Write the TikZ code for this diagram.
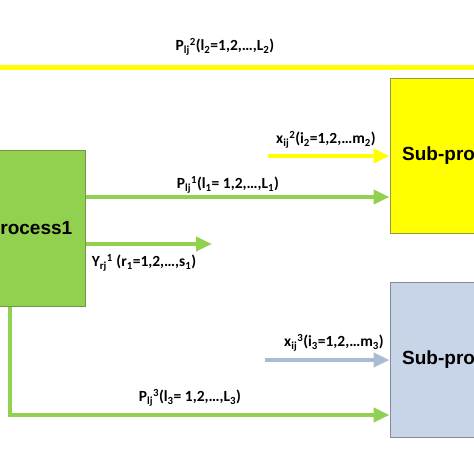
\documentclass[tikz,border=0pt]{standalone}
\usepackage{fontspec}
\setmainfont{Carlito}
\newfontfamily\boxfont{Liberation Sans}
\usetikzlibrary{arrows.meta}

\definecolor{flowgreen}{RGB}{146,208,80}
\definecolor{greenedge}{RGB}{112,150,72}
\definecolor{flowyellow}{RGB}{255,255,0}
\definecolor{yellowedge}{RGB}{150,150,60}
\definecolor{boxblue}{RGB}{200,213,232}
\definecolor{blueedge}{RGB}{128,138,152}
\definecolor{flowblue}{RGB}{170,187,212}

\begin{document}
\begin{tikzpicture}[x=1pt, y=-1pt,
	procbox/.style={draw, line width=1pt, minimum width=110pt, minimum height=156pt,
		inner sep=0pt, font=\boxfont\bfseries\fontsize{19}{22}\selectfont},
	subbox/.style={procbox, minimum width=150pt, minimum height=155pt},
	flow/.style={line width=4.5pt, -{Triangle[length=16pt, width=14pt]}},
	lbl/.style={font=\bfseries\fontsize{15.5}{18}\selectfont, inner sep=0pt}]
	
	% Keep the picture to the frame of the figure
	\clip (0,0) rectangle (474,474);
	\fill[white] (0,0) rectangle (474,474);
	
	% The boxes
	\node[procbox, fill=flowgreen, draw=greenedge] (proc1) at (30,228) {Process1};
	\node[subbox, fill=flowyellow, draw=yellowedge] (sub2) at (465,155.5) {Sub-process2};
	\node[subbox, fill=boxblue, draw=blueedge] (sub3) at (465,360) {Sub-process3};
	
	% Yellow line across the top
	\coordinate (ytop0) at (-5,67);
	\coordinate (ytop1) at (480,67);
	\draw[flowyellow, line width=5pt] (ytop0) -- (ytop1);
	\node[lbl] (lp2) at (225,47) {P\textsubscript{lj}\textsuperscript{2}(l\textsubscript{2}=1,2,…,L\textsubscript{2})};
	
	% Flows out of process 1
	\coordinate (p1) at (proc1.east |- 0,197);
	\draw[flow, flowgreen] (p1) -- (p1 -| sub2.west);
	\node[lbl] (lp1) at (228,185) {P\textsubscript{lj}\textsuperscript{1}(l\textsubscript{1}= 1,2,…,L\textsubscript{1})};
	
	\coordinate (y1) at (proc1.east |- 0,244);
	\coordinate (y1end) at (212,244);
	\draw[flow, flowgreen] (y1) -- (y1end);
	\node[lbl] (ly1) at (144,263) {Y\textsubscript{rj}\textsuperscript{1} (r\textsubscript{1}=1,2,…,s\textsubscript{1})};
	
	\coordinate (p3) at (10,0 |- proc1.south);
	\coordinate (p3c) at (10,415);
	\draw[flow, flowgreen] (p3) -- (p3c) -- (p3c -| sub3.west);
	\node[lbl] (lp3) at (190,398) {P\textsubscript{lj}\textsuperscript{3}(l\textsubscript{3}= 1,2,…,L\textsubscript{3})};
	
	% Inputs of the sub-processes
	\coordinate (x2) at (268,156);
	\draw[flow, flowyellow] (x2) -- (x2 -| sub2.west);
	\node[lbl] (lx2) at (326,140) {x\textsubscript{ij}\textsuperscript{2}(i\textsubscript{2}=1,2,…m\textsubscript{2})};
	
	\coordinate (x3) at (265,360);
	\draw[flow, flowblue] (x3) -- (x3 -| sub3.west);
	\node[lbl] (lx3) at (334,343) {x\textsubscript{ij}\textsuperscript{3}(i\textsubscript{3}=1,2,…m\textsubscript{3})};
	
\end{tikzpicture}
\end{document}
